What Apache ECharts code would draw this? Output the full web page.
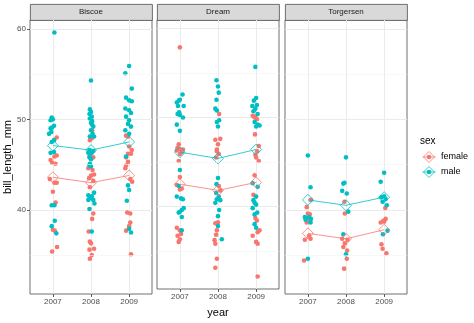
<!DOCTYPE html>
<html>
<head>
    <meta charset="utf-8">
    <title>bill_length_mm by year</title>
    <script src="https://cdn.jsdelivr.net/npm/echarts@6/dist/echarts.min.js"></script>
    <style>
        html, body { margin: 0; padding: 0; background: #fff; }
        #chart { width: 474px; height: 323px; }
    </style>
</head>
<body>
<div id="chart"></div>
<script type="text/javascript">
    // facet labels, x ticks, y ticks
    var islands = ['Biscoe', 'Dream', 'Torgersen'];
    var years = [2007, 2008, 2009];
    var yTicks = [40, 50, 60];
    var yMinor = [35, 45, 55];
    var sexes = ['female', 'male'];

    // points: [year, jitter, bill_length_mm]
    var biscoeFemale = [
        [2007,0.10,48.0],[2007,0.10,46.0],[2007,0.04,45.9],[2007,-0.06,45.5],[2007,-0.02,45.2],[2007,0.07,45.1],[2007,-0.08,43.4],[2007,0.04,43.0],[2007,0.10,43.0],[2007,0.00,42.0],[2007,0.07,40.8],[2007,0.00,37.8],[2007,0.05,37.7],[2007,0.11,35.9],[2007,-0.02,35.4],
        [2008,0.03,48.8],[2008,-0.03,47.7],[2008,0.02,47.9],[2008,-0.03,45.9],[2008,-0.03,46.1],[2008,0.06,45.8],[2008,-0.07,44.6],[2008,0.04,44.4],[2008,0.00,43.8],[2008,0.08,43.9],[2008,-0.05,43.5],[2008,0.06,43.2],[2008,-0.03,42.5],[2008,0.06,39.6],[2008,0.03,39.0],[2008,-0.06,37.6],[2008,-0.03,36.5],[2008,0.00,36.3],[2008,-0.04,35.6],[2008,0.08,35.7],[2008,0.02,35.0],[2008,-0.03,34.6],
        [2009,-0.03,48.1],[2009,-0.08,48.2],[2009,0.00,47.0],[2009,0.07,46.6],[2009,-0.03,46.2],[2009,0.05,46.2],[2009,-0.08,45.8],[2009,-0.03,45.3],[2009,-0.08,44.9],[2009,-0.10,44.6],[2009,0.03,43.4],[2009,0.08,43.1],[2009,-0.05,39.7],[2009,0.03,39.6],[2009,0.03,38.6],[2009,0.00,38.2],[2009,-0.08,37.7],[2009,0.05,35.1]
    ];
    var biscoeMale = [
        [2007,0.04,59.6],[2007,-0.03,50.2],[2007,0.00,50.0],[2007,-0.06,49.9],[2007,-0.02,49.1],[2007,-0.06,49.0],[2007,0.03,49.3],[2007,-0.04,48.6],[2007,-0.10,48.4],[2007,0.03,47.7],[2007,-0.03,47.5],[2007,0.03,46.4],[2007,-0.06,46.3],[2007,-0.03,40.5],[2007,0.04,40.5],[2007,0.05,38.8],[2007,-0.03,38.2],[2007,0.09,37.4],
        [2008,0.00,54.3],[2008,-0.03,51.1],[2008,0.00,50.8],[2008,-0.04,50.6],[2008,0.02,50.3],[2008,-0.03,50.1],[2008,0.03,49.8],[2008,0.00,49.6],[2008,0.03,49.4],[2008,0.06,49.2],[2008,0.00,48.8],[2008,0.04,48.4],[2008,0.08,48.1],[2008,-0.03,48.1],[2008,-0.04,46.6],[2008,0.02,46.3],[2008,-0.07,46.3],[2008,0.06,46.5],[2008,-0.04,45.8],[2008,0.00,45.6],[2008,-0.03,45.1],[2008,-0.04,44.9],[2008,0.00,44.8],[2008,-0.07,41.6],[2008,0.02,41.5],[2008,0.08,41.9],[2008,-0.03,41.3],[2008,0.06,41.1],[2008,-0.07,41.1],[2008,0.09,40.7],[2008,-0.04,40.1],[2008,0.02,37.6],
        [2009,0.00,55.9],[2009,-0.10,55.1],[2009,0.07,53.4],[2009,-0.08,52.4],[2009,0.00,52.1],[2009,0.07,52.0],[2009,-0.10,51.2],[2009,0.00,51.0],[2009,0.05,50.7],[2009,-0.08,50.3],[2009,0.00,49.9],[2009,-0.03,49.5],[2009,0.05,49.2],[2009,-0.10,48.8],[2009,0.00,48.4],[2009,-0.08,45.9],[2009,-0.03,42.7],[2009,0.00,42.2],[2009,-0.06,41.0],[2009,0.00,37.9],[2009,0.05,37.5]
    ];
    var dreamFemale = [
        [2007,0.00,57.9],[2007,-0.03,47.0],[2007,-0.06,46.6],[2007,0.00,46.4],[2007,-0.08,46.3],[2007,0.05,46.1],[2007,0.00,45.9],[2007,0.08,46.4],[2007,-0.03,45.1],[2007,0.00,43.3],[2007,-0.08,42.4],[2007,0.05,42.0],[2007,0.00,41.9],[2007,-0.08,37.6],[2007,0.00,37.3],[2007,-0.06,36.7],[2007,0.00,36.3],[2007,-0.03,36.0],[2007,0.03,36.9],
        [2008,0.03,50.4],[2008,-0.07,47.5],[2008,0.06,47.6],[2008,0.00,47.0],[2008,-0.03,46.4],[2008,-0.03,46.2],[2008,0.02,45.9],[2008,-0.05,45.5],[2008,0.02,42.3],[2008,0.06,41.8],[2008,-0.07,38.1],[2008,0.00,38.2],[2008,-0.03,37.3],[2008,-0.05,36.8],[2008,-0.09,36.2],[2008,-0.07,35.8],[2008,-0.03,34.1],[2008,-0.07,33.1],
        [2009,-0.09,50.2],[2009,-0.02,50.1],[2009,0.02,49.8],[2009,-0.04,50.0],[2009,-0.03,48.1],[2009,0.07,46.8],[2009,0.03,46.2],[2009,-0.02,45.8],[2009,0.00,45.5],[2009,0.07,45.1],[2009,-0.04,43.5],[2009,-0.07,41.3],[2009,-0.02,38.7],[2009,0.02,38.4],[2009,0.09,37.3],[2009,0.04,37.1],[2009,-0.09,36.7],[2009,0.00,36.0],[2009,0.04,35.8],[2009,0.04,32.1]
    ];
    var dreamMale = [
        [2007,0.07,52.6],[2007,0.00,52.0],[2007,-0.08,51.7],[2007,-0.03,51.9],[2007,0.10,51.3],[2007,-0.05,51.3],[2007,-0.02,50.6],[2007,0.00,50.3],[2007,-0.06,50.4],[2007,0.08,50.0],[2007,-0.08,49.2],[2007,0.00,48.5],[2007,0.00,44.1],[2007,-0.03,42.3],[2007,-0.08,41.1],[2007,0.03,40.9],[2007,0.08,40.8],[2007,0.10,39.8],[2007,0.05,39.6],[2007,0.00,39.4],[2007,-0.03,39.3],[2007,0.05,38.8],[2007,0.05,37.3],
        [2008,-0.04,54.2],[2008,0.00,53.5],[2008,0.02,52.8],[2008,-0.04,52.0],[2008,-0.07,51.0],[2008,-0.03,50.8],[2008,0.03,49.7],[2008,-0.03,49.5],[2008,0.00,49.0],[2008,0.00,43.2],[2008,-0.04,42.5],[2008,-0.05,41.5],[2008,0.02,41.1],[2008,-0.03,40.8],[2008,0.06,40.7],[2008,-0.07,40.4],[2008,0.03,39.6],[2008,0.00,38.9],[2008,0.10,36.3],[2008,0.00,37.8],
        [2009,-0.02,55.7],[2009,0.00,52.2],[2009,-0.06,51.9],[2009,0.02,51.4],[2009,-0.10,51.3],[2009,-0.02,51.0],[2009,-0.07,50.7],[2009,0.04,50.4],[2009,-0.04,49.5],[2009,0.04,49.2],[2009,0.00,49.0],[2009,0.09,49.1],[2009,-0.09,42.6],[2009,0.04,42.2],[2009,0.00,41.1],[2009,-0.07,40.7],[2009,-0.04,40.4],[2009,-0.09,39.8],[2009,0.00,40.2],[2009,-0.04,39.1],[2009,0.03,39.3],[2009,-0.04,38.0],[2009,0.00,37.6]
    ];
    var torgersenFemale = [
        [2007,0.08,41.1],[2007,-0.03,40.3],[2007,0.00,39.6],[2007,0.05,39.5],[2007,0.00,38.9],[2007,-0.03,38.6],[2007,-0.08,36.7],[2007,0.07,36.8],[2007,0.03,37.1],[2007,-0.10,34.4],
        [2008,-0.04,40.9],[2008,-0.03,39.6],[2008,-0.10,36.8],[2008,0.04,36.7],[2008,-0.03,36.3],[2008,-0.07,35.9],[2008,0.03,35.5],[2008,0.02,34.6],[2008,-0.05,33.5],
        [2009,0.03,40.2],[2009,0.04,39.0],[2009,-0.02,38.8],[2009,-0.09,38.6],[2009,0.00,38.7],[2009,-0.07,36.2],[2009,-0.04,35.7],[2009,0.06,35.2]
    ];
    var torgersenMale = [
        [2007,0.00,46.0],[2007,0.07,42.5],[2007,-0.08,39.2],[2007,0.03,39.2],[2007,0.08,39.0],[2007,-0.06,38.9],[2007,0.07,38.6],[2007,0.00,34.6],
        [2008,0.00,45.8],[2008,-0.07,42.9],[2008,-0.04,43.0],[2008,-0.10,42.1],[2008,0.02,41.8],[2008,0.06,39.8],[2008,-0.07,37.3],[2008,0.00,35.1],
        [2009,0.00,44.1],[2009,-0.09,43.1],[2009,-0.07,41.4],[2009,0.00,41.5],[2009,0.04,41.2],[2009,-0.04,40.9],[2009,0.07,40.5],[2009,0.09,37.7],[2009,-0.03,37.3]
    ];

    // yearly means (the diamonds), per island: 2007, 2008, 2009
    var femaleMeans = [[43.6, 43.0, 43.8], [42.5, 41.8, 42.7], [37.4, 36.8, 37.8]];
    var maleMeans = [[47.1, 46.6, 47.5], [46.1, 45.4, 46.4], [41.1, 40.5, 41.4]];

    var points = [
        [biscoeFemale, biscoeMale],
        [dreamFemale, dreamMale],
        [torgersenFemale, torgersenMale]
    ];
    var means = [femaleMeans, maleMeans];
    var colors = ['#F8766D', '#00BFC4'];

    var font = 'Liberation Sans';
    var lefts = [30, 157, 285];
    var panelW = 122, panelTop = 20, panelH = 274;

    var grid = [], xAxis = [], yAxis = [], series = [], graphic = [];
    for (var i = 0; i < 3; i++) {
        grid.push({
            left: lefts[i], top: panelTop, width: panelW, height: panelH,
            show: true, borderColor: '#4d4d4d', borderWidth: 0.8, backgroundColor: '#fff'
        });
        xAxis.push({
            type: 'value', gridIndex: i, min: 2006.4, max: 2009.6,
            axisLine: {show: false},
            axisTick: {show: true, customValues: years, length: 3, lineStyle: {color: '#333', width: 0.8}},
            axisLabel: {customValues: years, formatter: function (v) { return String(v); },
                fontSize: 8, color: '#4d4d4d', fontFamily: font, margin: 4},
            splitLine: {show: true, lineStyle: {color: '#ebebeb', width: 1}},
            name: i === 1 ? 'year' : '', nameLocation: 'middle', nameGap: 18,
            nameTextStyle: {fontSize: 11, color: '#000', fontFamily: font}
        });
        yAxis.push({
            type: 'value', gridIndex: i, min: 30.7, max: 60.98,
            axisLine: {show: false},
            axisTick: {show: i === 0, customValues: yTicks, length: 3, lineStyle: {color: '#333', width: 0.8}},
            axisLabel: {show: i === 0, customValues: yTicks, fontSize: 8, color: '#4d4d4d', fontFamily: font, margin: 4},
            splitLine: {show: true, lineStyle: {color: '#ebebeb', width: 1}},
            name: i === 0 ? 'bill_length_mm' : '', nameLocation: 'middle', nameGap: 16,
            nameTextStyle: {fontSize: 11, color: '#000', fontFamily: font}
        });

        // strip on top of the panel
        graphic.push({
            type: 'rect', left: lefts[i], top: 4, silent: true,
            shape: {width: panelW, height: 16},
            style: {fill: '#d9d9d9', stroke: '#4d4d4d', lineWidth: 0.8}
        });
        graphic.push({
            type: 'text', x: lefts[i] + panelW / 2, y: 12, silent: true,
            style: {text: islands[i], fill: '#1a1a1a', font: '8px "' + font + '"', align: 'center', verticalAlign: 'middle'}
        });

        for (var s = 0; s < 2; s++) {
            var ser = {
                type: 'scatter', xAxisIndex: i, yAxisIndex: i,
                symbolSize: 4.6, itemStyle: {color: colors[s], opacity: 1},
                data: points[i][s].map(function (p) { return [p[0] + p[1], p[2]]; }),
                z: 3
            };
            if (s === 0) {
                // light minor grid lines
                ser.markLine = {
                    silent: true, symbol: ['none', 'none'], label: {show: false},
                    lineStyle: {color: '#f3f3f3', width: 0.6, type: 'solid'},
                    data: yMinor.map(function (v) { return {yAxis: v}; })
                };
            }
            series.push(ser);
        }
        for (var s2 = 0; s2 < 2; s2++) {
            series.push({
                type: 'line', xAxisIndex: i, yAxisIndex: i,
                symbol: 'diamond', symbolSize: 11, showAllSymbol: true,
                itemStyle: {color: 'rgba(255,255,255,0)', borderColor: colors[s2], borderWidth: 0.8},
                lineStyle: {color: colors[s2], width: 0.8},
                data: years.map(function (y, j) { return [y, means[s2][i][j]]; }),
                z: 4
            });
        }
    }

    // legend for sex
    graphic.push({
        type: 'text', x: 420, y: 141, silent: true,
        style: {text: 'sex', fill: '#000', font: '10px "' + font + '"', verticalAlign: 'middle'}
    });
    var keyY = [157, 172];
    for (var k = 0; k < 2; k++) {
        var cx = 429, cy = keyY[k], c = colors[k];
        graphic.push({type: 'line', silent: true, shape: {x1: cx - 6.5, y1: cy, x2: cx + 6.5, y2: cy},
            style: {stroke: c, lineWidth: 0.8}});
        graphic.push({type: 'polygon', silent: true,
            shape: {points: [[cx, cy - 5.5], [cx + 5.5, cy], [cx, cy + 5.5], [cx - 5.5, cy]]},
            style: {fill: 'none', stroke: c, lineWidth: 0.8}});
        graphic.push({type: 'circle', silent: true, shape: {cx: cx, cy: cy, r: 2.3}, style: {fill: c}});
        graphic.push({type: 'text', x: 441, y: cy, silent: true,
            style: {text: sexes[k], fill: '#000', font: '9px "' + font + '"', verticalAlign: 'middle'}});
    }

    var myChart = echarts.init(document.getElementById('chart'));
    myChart.setOption({
        animation: false,
        backgroundColor: '#fff',
        textStyle: {fontFamily: font},
        grid: grid,
        xAxis: xAxis,
        yAxis: yAxis,
        graphic: graphic,
        series: series
    });
</script>
</body>
</html>
